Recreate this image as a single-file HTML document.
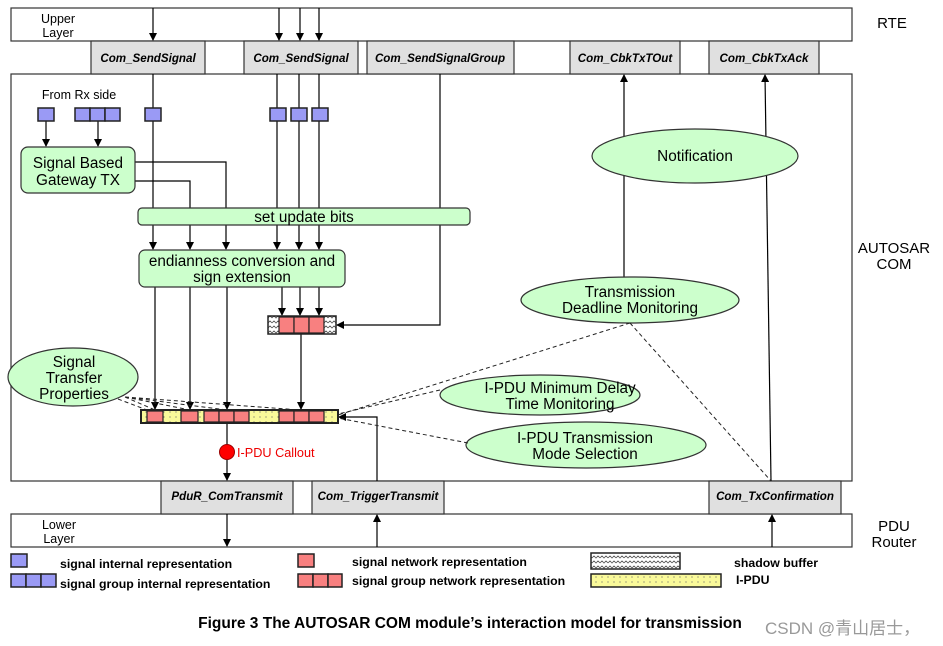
<!DOCTYPE html>
<html><head><style>body{margin:0;background:#fff}svg{display:block}</style></head><body>
<svg width="943" height="646" viewBox="0 0 943 646" xmlns="http://www.w3.org/2000/svg" font-family="Liberation Sans, sans-serif">
<defs>
<marker id="a" markerWidth="8" markerHeight="8" refX="7" refY="4" orient="auto" markerUnits="userSpaceOnUse"><path d="M0,0 L8,4 L0,8z" fill="#000"/></marker>
<pattern id="dots" width="6" height="5" patternUnits="userSpaceOnUse"><rect width="6" height="5" fill="#fafa9a"/><circle cx="2" cy="2" r="0.6" fill="#666"/></pattern>
<pattern id="wave" width="8" height="5" patternUnits="userSpaceOnUse"><rect width="8" height="5" fill="#fff"/><path d="M0,3 L2,1 L4,3 L6,1 L8,3" stroke="#555" fill="none" stroke-width="0.8"/></pattern>
</defs>
<g stroke="#333" fill="none" stroke-width="1.2">
<rect x="11" y="8" width="841" height="33"/>
<rect x="11" y="74" width="841" height="407"/>
<rect x="11" y="514" width="841" height="33"/>
</g>
<g stroke="#333" fill="#e0e0e0" stroke-width="1.2">
<rect x="91" y="41" width="114" height="33"/><rect x="244" y="41" width="114" height="33"/><rect x="367" y="41" width="147" height="33"/>
<rect x="570" y="41" width="110" height="33"/><rect x="709" y="41" width="110" height="33"/>
<rect x="161" y="481" width="132" height="33"/><rect x="312" y="481" width="132" height="33"/><rect x="709" y="481" width="132" height="33"/>
</g>
<g font-size="11.6" font-weight="bold" font-style="italic" text-anchor="middle" fill="#000">
<text x="148" y="62">Com_SendSignal</text><text x="301" y="62">Com_SendSignal</text><text x="440" y="62">Com_SendSignalGroup</text>
<text x="625" y="62">Com_CbkTxTOut</text><text x="764" y="62">Com_CbkTxAck</text>
<text x="227" y="500">PduR_ComTransmit</text><text x="378" y="500">Com_TriggerTransmit</text><text x="775" y="500">Com_TxConfirmation</text>
</g>
<g font-size="12.5" text-anchor="middle" fill="#000"><text x="58" y="23">Upper</text><text x="58" y="37">Layer</text><text x="59" y="529">Lower</text><text x="59" y="543">Layer</text></g>
<g font-size="15" text-anchor="middle" fill="#000"><text x="892" y="28">RTE</text><text x="894" y="253">AUTOSAR</text><text x="894" y="269">COM</text><text x="894" y="531">PDU</text><text x="894" y="547">Router</text></g>
<g stroke="#000" stroke-width="1.2" fill="none">
<path d="M153,8V40" marker-end="url(#a)"/><path d="M279,8V40" marker-end="url(#a)"/><path d="M300,8V40" marker-end="url(#a)"/><path d="M319,8V40" marker-end="url(#a)"/>
<path d="M153,74V249" marker-end="url(#a)"/>
<path d="M277,74V249" marker-end="url(#a)"/><path d="M299,74V249" marker-end="url(#a)"/><path d="M319,74V249" marker-end="url(#a)"/>
<path d="M46,121V146" marker-end="url(#a)"/><path d="M98,121V146" marker-end="url(#a)"/>
<path d="M135,162H226V249" marker-end="url(#a)"/><path d="M135,181H190V249" marker-end="url(#a)"/>
<path d="M155,287V409" marker-end="url(#a)"/><path d="M190,287V409" marker-end="url(#a)"/><path d="M227,287V409" marker-end="url(#a)"/>
<path d="M282,287V315" marker-end="url(#a)"/><path d="M300,287V315" marker-end="url(#a)"/><path d="M319,287V315" marker-end="url(#a)"/>
<path d="M440,74V325H337" marker-end="url(#a)"/>
<path d="M301,334V409" marker-end="url(#a)"/>
<path d="M227,423V480" marker-end="url(#a)"/>
<path d="M227,514V546" marker-end="url(#a)"/>
<path d="M377,481V417H339" marker-end="url(#a)"/>
<path d="M377,547V515" marker-end="url(#a)"/>
<path d="M772,547V515" marker-end="url(#a)"/>
<path d="M624,277V75" marker-end="url(#a)"/>
<path d="M771,481L765,75" marker-end="url(#a)"/>
</g>
<g fill="#9a9af5" stroke="#222" stroke-width="1.5">
<rect x="38" y="108" width="16" height="13"/><rect x="75" y="108" width="15" height="13"/><rect x="90" y="108" width="15" height="13"/><rect x="105" y="108" width="15" height="13"/>
<rect x="145" y="108" width="16" height="13"/><rect x="270" y="108" width="16" height="13"/><rect x="291" y="108" width="16" height="13"/><rect x="312" y="108" width="16" height="13"/>
</g>
<text x="79" y="99" font-size="12.5" text-anchor="middle">From Rx side</text>
<g fill="#ccffcc" stroke="#333" stroke-width="1.2">
<rect x="21" y="147" width="114" height="46" rx="7"/>
<rect x="138" y="208" width="332" height="17" rx="4"/>
<rect x="139" y="250" width="206" height="37" rx="6"/>
<ellipse cx="73" cy="377" rx="65" ry="29"/>
<ellipse cx="695" cy="156" rx="103" ry="27"/>
<ellipse cx="630" cy="300" rx="109" ry="23"/>
<ellipse cx="540" cy="395" rx="100" ry="20"/>
<ellipse cx="586" cy="445" rx="120" ry="23"/>
</g>
<g font-size="15.3" text-anchor="middle" fill="#000">
<text x="78" y="168">Signal Based</text><text x="78" y="185">Gateway TX</text>
<text x="304" y="222">set update bits</text>
<text x="242" y="266">endianness conversion and</text><text x="242" y="282">sign extension</text>
<text x="74" y="367">Signal</text><text x="74" y="383">Transfer</text><text x="74" y="399">Properties</text>
<text x="695" y="161">Notification</text>
<text x="630" y="297">Transmission</text><text x="630" y="313">Deadline Monitoring</text>
<text x="560" y="393">I-PDU Minimum Delay</text><text x="560" y="409">Time Monitoring</text>
<text x="585" y="443">I-PDU Transmission</text><text x="585" y="459">Mode Selection</text>
</g>
<g stroke="#222" stroke-width="1" stroke-dasharray="4,3" fill="none">
<path d="M125,397L155,410M125,397L190,410M125,397L227,410M125,397L300,410M118,399L147,410"/>
<path d="M630,323L338,415M630,323L771,481M440,390L338,414M468,443L338,418"/>
</g>
<rect x="268" y="316" width="68" height="18" fill="url(#wave)" stroke="#222" stroke-width="1.5"/>
<g fill="#f88080" stroke="#222" stroke-width="1.2"><rect x="279" y="317" width="15" height="16"/><rect x="294" y="317" width="15" height="16"/><rect x="309" y="317" width="15" height="16"/></g>
<rect x="141" y="410" width="197" height="13" fill="url(#dots)" stroke="#222" stroke-width="2"/>
<g fill="#f88080" stroke="#222" stroke-width="1.2">
<rect x="147" y="411" width="16" height="11"/><rect x="181" y="411" width="17" height="11"/>
<rect x="204" y="411" width="15" height="11"/><rect x="219" y="411" width="15" height="11"/><rect x="234" y="411" width="15" height="11"/>
<rect x="279" y="411" width="15" height="11"/><rect x="294" y="411" width="15" height="11"/><rect x="309" y="411" width="15" height="11"/>
</g>
<circle cx="227" cy="452" r="7.5" fill="#f00" stroke="#900"/>
<text x="237" y="457" font-size="12.7" fill="#e00">I-PDU Callout</text>
<g stroke="#222" stroke-width="1.5">
<rect x="11" y="554" width="16" height="13" fill="#9a9af5"/>
<rect x="11" y="574" width="15" height="13" fill="#9a9af5"/><rect x="26" y="574" width="15" height="13" fill="#9a9af5"/><rect x="41" y="574" width="15" height="13" fill="#9a9af5"/>
<rect x="298" y="554" width="16" height="13" fill="#f88080"/>
<rect x="298" y="574" width="15" height="13" fill="#f88080"/><rect x="313" y="574" width="15" height="13" fill="#f88080"/><rect x="328" y="574" width="14" height="13" fill="#f88080"/>
<rect x="591" y="553" width="89" height="16" fill="url(#wave)"/>
<rect x="591" y="574" width="130" height="13" fill="url(#dots)"/>
</g>
<g font-size="12.3" font-weight="bold" fill="#000">
<text x="60" y="568">signal internal representation</text><text x="60" y="588">signal group internal representation</text>
<text x="352" y="566">signal network representation</text><text x="352" y="585">signal group network representation</text>
<text x="734" y="567">shadow buffer</text><text x="736" y="584">I-PDU</text>
</g>
<text x="470" y="628" font-size="15.5" font-weight="bold" text-anchor="middle">Figure 3 The AUTOSAR COM module’s interaction model for transmission</text>
<text x="765" y="634" font-size="17" fill="#999" font-family="Liberation Sans, Noto Sans CJK SC, sans-serif">CSDN @青山居士，</text>
</svg>
</body></html>
